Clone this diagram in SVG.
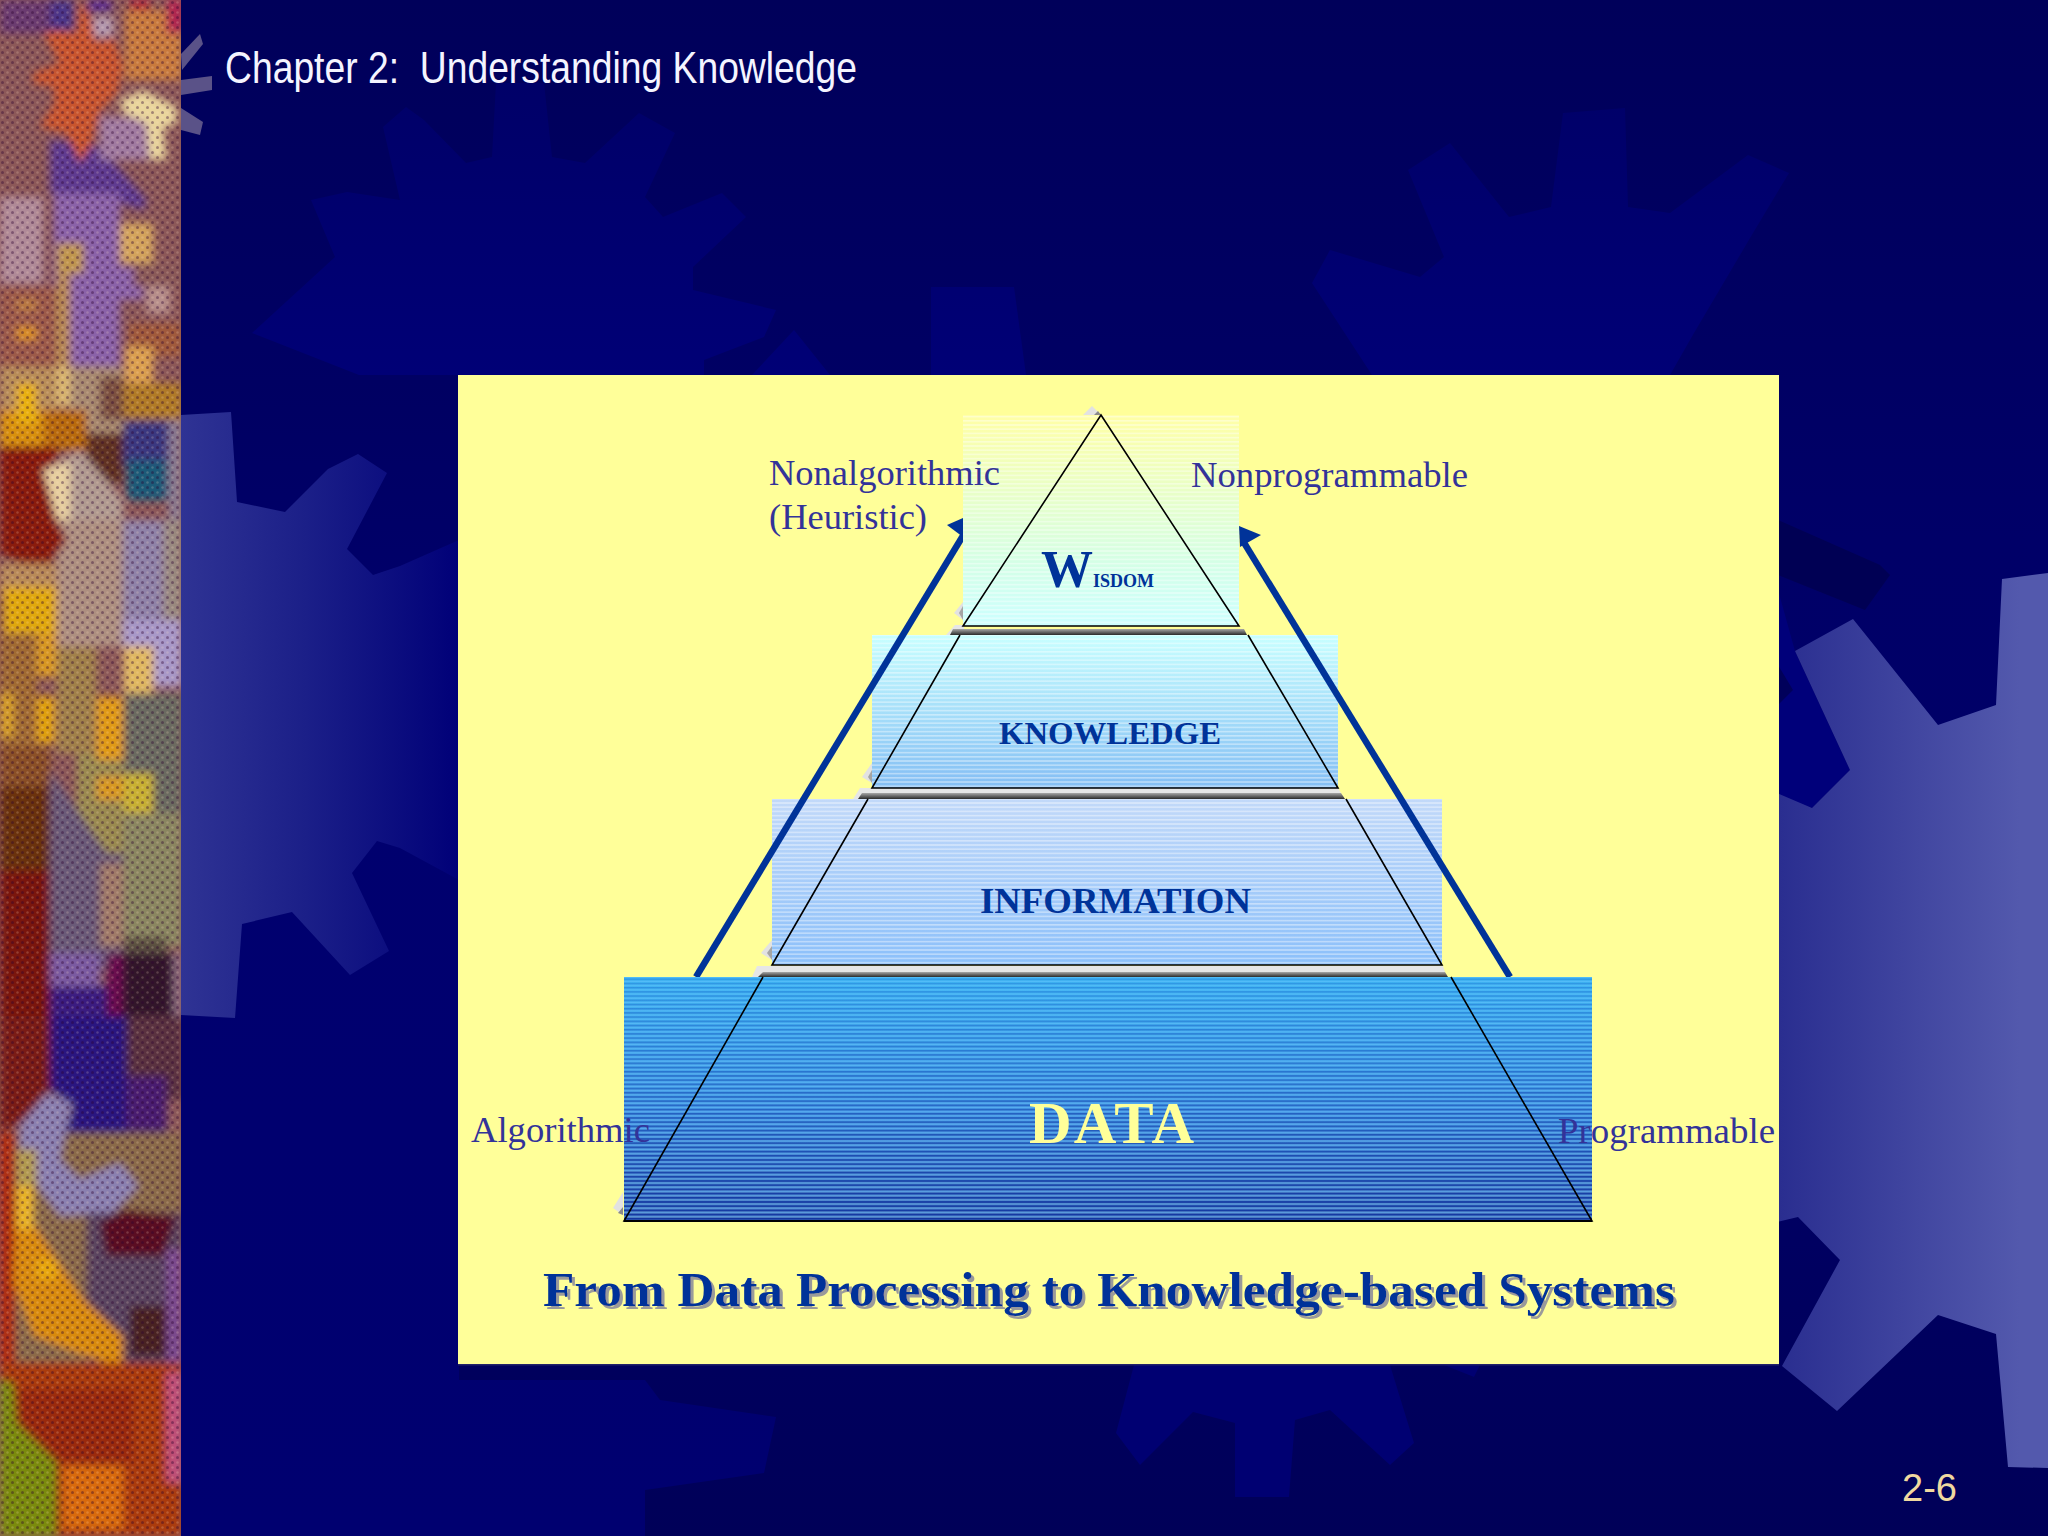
<svg xmlns="http://www.w3.org/2000/svg" width="2048" height="1536" viewBox="0 0 2048 1536">
<style>
.lab{font-family:"Liberation Serif","Times New Roman",serif;font-size:35px;fill:#333399}
.nm{font-family:"Liberation Serif","Times New Roman",serif;font-weight:bold;fill:#003399}
.edge{fill:none;stroke:#000;stroke-width:1.6}
.arrow{fill:none;stroke:#003399;stroke-width:6.5}
.head{fill:#003399}
.lt{fill:#e6e6e6}
.dk{fill:url(#barG)}
.tick{fill:#e2e2e2}
.tickd{fill:#8a8a8a}
</style>
<defs>
<linearGradient id="bg" x1="0" y1="0" x2="0" y2="1"><stop offset="0" stop-color="#00005a"/><stop offset=".35" stop-color="#000068"/><stop offset=".7" stop-color="#000066"/><stop offset="1" stop-color="#000058"/></linearGradient>
<linearGradient id="leftBg" x1="0" y1="0" x2="0" y2="1"><stop offset="0" stop-color="#000062"/><stop offset=".3" stop-color="#00006e"/><stop offset="1" stop-color="#000070"/></linearGradient>
<linearGradient id="topG" gradientUnits="userSpaceOnUse" x1="0" y1="80" x2="0" y2="375"><stop offset="0" stop-color="#000068"/><stop offset="1" stop-color="#000076"/></linearGradient>
<linearGradient id="gearR" gradientUnits="userSpaceOnUse" x1="1700" y1="0" x2="2020" y2="0"><stop offset="0" stop-color="#14187f"/><stop offset=".25" stop-color="#2a2e90"/><stop offset="1" stop-color="#5359ad"/></linearGradient>
<linearGradient id="gearL" gradientUnits="userSpaceOnUse" x1="181" y1="0" x2="460" y2="0"><stop offset="0" stop-color="#2f3394"/><stop offset=".45" stop-color="#1b1f88"/><stop offset="1" stop-color="#000078"/></linearGradient>
<linearGradient id="barG" x1="0" y1="0" x2="0" y2="1"><stop offset="0" stop-color="#a8a8a8"/><stop offset="1" stop-color="#2a2a2a"/></linearGradient>
<linearGradient id="wG" x1="0" y1="0" x2="0" y2="1"><stop offset="0" stop-color="#ffffa6"/><stop offset=".7" stop-color="#d4ffe6"/><stop offset="1" stop-color="#ccffff"/></linearGradient>
<linearGradient id="kG" x1="0" y1="0" x2="0" y2="1"><stop offset="0" stop-color="#c8ffff"/><stop offset="1" stop-color="#84bef4"/></linearGradient>
<linearGradient id="iG" x1="0" y1="0" x2="0" y2="1"><stop offset="0" stop-color="#c2d9f9"/><stop offset="1" stop-color="#8cc0fa"/></linearGradient>
<linearGradient id="dG" x1="0" y1="0" x2="0" y2="1"><stop offset="0" stop-color="#3eb4f2"/><stop offset=".55" stop-color="#4596e2"/><stop offset="1" stop-color="#4a74bc"/></linearGradient>
<linearGradient id="fade" x1="0" y1="0" x2="0" y2="1"><stop offset="0" stop-color="#111"/><stop offset=".45" stop-color="#555"/><stop offset="1" stop-color="#eee"/></linearGradient>
<pattern id="sw" width="4" height="4.2" patternUnits="userSpaceOnUse"><rect width="4" height="1.6" fill="#fff" fill-opacity=".4"/></pattern>
<pattern id="sb" width="4" height="4.2" patternUnits="userSpaceOnUse"><rect width="4" height="1.2" fill="#1060d8" fill-opacity=".28"/></pattern>
<pattern id="sd" width="4" height="4.2" patternUnits="userSpaceOnUse"><rect width="4" height="1.6" fill="#0a2a9a"/></pattern>
<pattern id="sl" width="4" height="4.2" patternUnits="userSpaceOnUse"><rect y="2.2" width="4" height="1.2" fill="#6cc8ff" fill-opacity=".45"/></pattern>
<mask id="dMask" maskUnits="userSpaceOnUse" x="624" y="977" width="968" height="244"><rect x="624" y="977" width="968" height="244" fill="url(#fade)"/></mask>
<pattern id="dith" width="10" height="10" patternUnits="userSpaceOnUse"><circle cx="2.5" cy="2.5" r="1.5" fill="#2a0030" fill-opacity=".38"/><circle cx="7.5" cy="7.5" r="1.5" fill="#2a0030" fill-opacity=".38"/><circle cx="7.5" cy="2.5" r="1.2" fill="#ffe0c8" fill-opacity=".2"/><circle cx="2.5" cy="7.5" r="1.2" fill="#ffe0c8" fill-opacity=".2"/></pattern>
<filter id="soft" x="-5%" y="-2%" width="110%" height="104%"><feGaussianBlur stdDeviation="4"/></filter>
<filter id="ts" x="-2%" y="-10%" width="104%" height="130%"><feDropShadow dx="3" dy="3" stdDeviation=".6" flood-color="#9a9a9a"/></filter>
<clipPath id="side"><rect width="181" height="1536"/></clipPath>
</defs>

<g id="background">
<rect width="2048" height="1536" fill="url(#bg)"/>
<path d="M181 380H459V1380H645L660 1400 776 1417 764 1473 645 1490V1536H181Z" fill="url(#leftBg)"/>
<g fill="url(#topG)">
<path d="M383 127 406 107 424 120 466 163 492 157 496 83H544L552 157 585 163 639 113 675 133 645 197 663 217 722 193 746 217 693 267V290L776 310 764 337 704 360V375H359L252 333 335 257 311 200 347 192 400 200Z"/>
<path d="M931 287H1014L1026 375H931Z"/>
<path d="M794 330 752 375H830Z"/>
<path d="M1563 113 1625 108 1628 207 1670 213 1748 155 1789 173 1753 233 1694 333 1670 375H1372L1312 283 1330 250 1420 277 1444 257 1408 170 1450 143 1509 217 1551 207Z"/>
</g>
<g fill="#000072">
<path d="M1134 1365 1116 1433 1140 1465 1193 1412 1235 1423V1497H1289L1295 1420 1330 1410 1390 1465 1414 1443 1390 1365Z"/>
<path d="M1444 1365H1480L1474 1377Z"/>
<path d="M1778 590 1795 651 1850 770 1812 808 1778 797Z" fill="#00007a"/>
</g>
<path d="M1778 520 1880 565 1890 575 1865 610 1778 575Z" fill="#000054"/>
<path d="M1778 665 1793 690 1778 705Z" fill="#00005a"/>
<path d="M2002 579 2048 573V1468L2008 1467 1996 1334 1938 1315 1837 1411 1782 1366 1840 1260 1798 1217 1700 1240V760L1812 808 1850 770 1795 651 1853 619 1938 725 1996 705Z" fill="url(#gearR)"/>
<path d="M181 415 231 412 237 502 285 512 328 469 358 454 387 473 347 549 373 575 400 566 459 540V880L400 848 377 841 352 873 389 951 350 975 292 912 242 924 235 1018 181 1015Z" fill="url(#gearL)"/>
</g>

<g id="sidebar" clip-path="url(#side)">
<rect width="181" height="1536" fill="#8c5858"/>
<g filter="url(#soft)">
<g transform="scale(.3333)">
<rect x="0" y="0" width="150" height="100" fill="#6b3a70"/>
<rect x="150" y="0" width="70" height="90" fill="#4b3488"/>
<rect x="265" y="0" width="70" height="35" fill="#5a2a90"/>
<rect x="375" y="30" width="171" height="210" fill="#c87a3c"/>
<rect x="390" y="0" width="60" height="30" fill="#b01a38"/>
<rect x="500" y="0" width="46" height="100" fill="#b02050"/>
<path d="M150 420 300 440 440 600 430 630 300 590 150 580Z" fill="#5f3a90"/>
<rect x="300" y="350" width="150" height="130" fill="#a07aa0"/>
<path d="M240 0 270 50 290 130 340 110 370 200 350 280 300 330 270 440 240 490 200 400 120 380 165 310 160 260 100 250 100 220 180 190 130 100 170 90 230 100Z" fill="#c8552f"/>
<rect x="280" y="50" width="60" height="60" fill="#b49ab0"/>
<path d="M360 300 430 270 530 320 530 370 490 385 500 480 450 480 440 370 370 340Z" fill="#ead69c"/>
<rect x="160" y="580" width="200" height="520" fill="#8a62a8"/>
<rect x="220" y="800" width="210" height="100" fill="#8a62a8"/>
<rect x="0" y="590" width="130" height="260" fill="#b08a98"/>
<rect x="0" y="860" width="170" height="240" fill="#9c5a48"/>
<rect x="170" y="730" width="80" height="90" fill="#c0964e"/>
<rect x="170" y="820" width="40" height="280" fill="#b88a50"/>
<rect x="50" y="900" width="60" height="30" fill="#c08040"/>
<rect x="50" y="980" width="60" height="40" fill="#dc9020"/>
<rect x="360" y="670" width="100" height="120" fill="#d4a45c"/>
<rect x="400" y="790" width="146" height="70" fill="#8a5a58"/>
<rect x="440" y="860" width="70" height="80" fill="#b8908c"/>
<rect x="385" y="970" width="161" height="100" fill="#a05a3a"/>
<rect x="375" y="1040" width="85" height="110" fill="#dca050"/>
<rect x="0" y="1100" width="170" height="130" fill="#b88d58"/>
<rect x="170" y="1100" width="40" height="120" fill="#dcb870"/>
<rect x="210" y="1100" width="160" height="200" fill="#a88a70"/>
<rect x="300" y="1130" width="70" height="130" fill="#7a5040"/>
<rect x="370" y="1150" width="176" height="110" fill="#b07a28"/>
<rect x="0" y="1230" width="140" height="110" fill="#d89010"/>
<rect x="50" y="1150" width="60" height="120" fill="#e8b010"/>
<rect x="130" y="1230" width="130" height="120" fill="#b86a10"/>
<rect x="260" y="1300" width="110" height="150" fill="#603020"/>
<rect x="370" y="1260" width="176" height="140" fill="#3a3880"/>
<rect x="380" y="1380" width="125" height="120" fill="#1a5a78"/>
<rect x="505" y="1260" width="41" height="300" fill="#8a7a90"/>
<rect x="0" y="1340" width="170" height="220" fill="#8a1a10"/>
<path d="M130 1410 240 1350 370 1500V1560H170Z" fill="#b09a90"/>
<path d="M130 1410 210 1385V1560H170Z" fill="#e8d0a0"/>
</g>
<g transform="translate(0 520) scale(.3333)">
<rect x="170" y="0" width="200" height="380" fill="#ad8f80"/>
<rect x="370" y="0" width="120" height="380" fill="#8f82a8"/>
<rect x="490" y="0" width="56" height="300" fill="#9a8a80"/>
<rect x="370" y="300" width="176" height="200" fill="#a898c8"/>
<path d="M0 0H170L200 60 130 160 0 100Z" fill="#8a1a10"/>
<rect x="0" y="130" width="170" height="100" fill="#b88a58"/>
<rect x="10" y="200" width="160" height="140" fill="#e0a810"/>
<rect x="110" y="340" width="60" height="130" fill="#d89820"/>
<rect x="0" y="340" width="110" height="340" fill="#a06a30"/>
<rect x="0" y="520" width="40" height="130" fill="#d8a028"/>
<rect x="110" y="530" width="55" height="140" fill="#e0a010"/>
<rect x="170" y="380" width="120" height="320" fill="#a0804a"/>
<rect x="370" y="520" width="176" height="360" fill="#6a6a60"/>
<rect x="230" y="700" width="140" height="300" fill="#9a8a50"/>
<rect x="290" y="530" width="80" height="190" fill="#e09a18"/>
<rect x="370" y="380" width="90" height="140" fill="#e0b860"/>
<rect x="290" y="770" width="80" height="70" fill="#d89820"/>
<rect x="370" y="760" width="90" height="120" fill="#c8b030"/>
<rect x="370" y="880" width="176" height="400" fill="#8a8660"/>
<rect x="0" y="680" width="150" height="120" fill="#8a5028"/>
<rect x="0" y="800" width="150" height="250" fill="#6a3010"/>
<rect x="0" y="1050" width="150" height="510" fill="#7a1410"/>
<path d="M150 750 320 1000 370 1000V1290L250 1400 150 1300Z" fill="#6a5a78"/>
<rect x="300" y="1030" width="70" height="250" fill="#a07a68"/>
<rect x="150" y="1300" width="150" height="100" fill="#7a5aa0"/>
<rect x="150" y="1400" width="220" height="160" fill="#3a1a80"/>
<rect x="320" y="1300" width="60" height="260" fill="#6a1050"/>
<rect x="370" y="1300" width="150" height="260" fill="#30142c"/>
<rect x="370" y="1250" width="130" height="50" fill="#5a5040"/>
<rect x="520" y="1300" width="26" height="260" fill="#8a6a80"/>
</g>
<g transform="translate(0 1016) scale(.3333)">
<path d="M0 0H150V230L60 320 0 350Z" fill="#7a1a18"/>
<rect x="380" y="0" width="166" height="250" fill="#5a3040"/>
<rect x="380" y="180" width="120" height="320" fill="#4a1a70"/>
<path d="M150 0H380V430L240 480 170 430 220 270 150 220Z" fill="#2a1480"/>
<rect x="0" y="350" width="546" height="700" fill="#8a6a4a"/>
<path d="M60 330 140 230 215 260 180 430 240 490 360 440 415 510 340 590 180 600 120 520 60 400Z" fill="#8a80b0"/>
<rect x="260" y="590" width="286" height="460" fill="#5a4460"/>
<path d="M300 620 370 580 530 600 490 720 320 720Z" fill="#5a0c24"/>
<rect x="390" y="870" width="110" height="150" fill="#4a2020"/>
<rect x="500" y="700" width="46" height="350" fill="#7a4a90"/>
<rect x="0" y="350" width="45" height="700" fill="#b02a10"/>
<path d="M50 500 100 620 150 700 250 850 370 960V1060L200 1000 100 960 40 800Z" fill="#d88a10"/>
<rect x="50" y="500" width="50" height="140" fill="#e8b428"/>
<rect x="50" y="400" width="60" height="110" fill="#b09a50"/>
<rect x="110" y="730" width="60" height="60" fill="#e8a810"/>
<rect x="0" y="1040" width="546" height="520" fill="#aa3a08"/>
<rect x="50" y="1120" width="350" height="220" fill="#9a2a08"/>
<path d="M0 1090 40 1100 50 1220 170 1340V1560H0Z" fill="#7a8a10"/>
<rect x="190" y="1350" width="180" height="190" fill="#d86a10"/>
<rect x="500" y="1070" width="46" height="330" fill="#c0507a"/>
</g>
</g>
<rect width="181" height="1536" fill="url(#dith)"/>
</g>
<g id="sidebar-teeth" fill="#5a5288">
<path d="M181 54 200 34 203 44 182 70Z"/>
<path d="M181 80 212 76V90L181 95Z"/>
<path d="M181 108 203 122 200 135 181 130Z"/>
</g>

<text id="title" x="225" y="83" font-family="Liberation Sans, Arial, sans-serif" font-size="45" fill="#f4f4ff" textLength="632" lengthAdjust="spacingAndGlyphs" style="white-space:pre">Chapter 2:  Understanding Knowledge</text>

<g id="panel">
<rect x="458" y="375" width="1321" height="990" fill="#ffff99"/>
<rect x="458" y="1364" width="1321" height="1.5" fill="#22226a"/>
</g>

<g id="knowledge">
<rect x="872" y="635" width="466" height="153" fill="url(#kG)"/>
<rect x="872" y="635" width="466" height="153" fill="url(#sw)"/>
</g>
<g id="information">
<rect x="772" y="799" width="670" height="166" fill="url(#iG)"/>
<rect x="772" y="799" width="670" height="166" fill="url(#sw)"/>
</g>

<g id="connectors">
<line class="arrow" x1="696" y1="977" x2="964" y2="534"/>
<line class="arrow" x1="1510" y1="977" x2="1243" y2="541"/>
<polygon class="head" points="947,525 963,518 963,537"/>
<polygon class="head" points="1239,526 1261,535 1240,547"/>
</g>

<g id="wisdom">
<rect x="963" y="415" width="276" height="211" fill="url(#wG)"/>
<rect x="963" y="415" width="276" height="211" fill="url(#sw)"/>
</g>

<g id="data">
<rect x="624" y="977" width="968" height="244" fill="url(#dG)"/>
<rect x="624" y="977" width="968" height="244" fill="url(#sl)"/>
<rect x="624" y="977" width="968" height="244" fill="url(#sb)"/>
<rect x="624" y="977" width="968" height="244" fill="url(#sd)" mask="url(#dMask)" opacity=".9"/>
</g>

<g id="pyramid-frame">
<path class="tick" d="M1083 415 1092 406 1101 415Z"/>
<path class="tickd" d="M1094 415 1098 411 1101 415Z"/>
<path class="tick" d="M954 613 963 602V620Z"/>
<path class="tickd" d="M959 613 963 606V620Z" opacity=".7"/>
<path class="tick" d="M862 777 872 763V783Z"/>
<path class="tickd" d="M868 777 872 770V783Z" opacity=".7"/>
<path class="tick" d="M761 953 772 940V960Z"/>
<path class="tickd" d="M767 953 772 946V960Z" opacity=".7"/>
<path class="tick" d="M613 1208 623 1192V1215Z"/>
<path class="tickd" d="M618 1213 623 1207V1215Z"/>
<path class="lt" d="M946 635 955 625H964V630L953 635Z"/>
<path class="dk" d="M953 629H1244L1247 635H950Z"/>
<path class="lt" d="M853 799 860 788H1338L1341 793 860 799Z"/>
<path class="dk" d="M862 793H1341L1345 799H858Z"/>
<path class="lt" d="M752 977 757 966H1443L1445 972 760 977Z"/>
<path class="dk" d="M763 972H1445L1448 977H758Z"/>
<path class="edge" d="M963 626 1101 415 1239 626Z"/>
<path class="edge" d="M960 635 872 788H1338L1248 635"/>
<path class="edge" d="M868 799 772 965H1442L1346 799"/>
<path class="edge" d="M763 977 624 1221H1592L1451 977"/>
<line x1="624" y1="1221" x2="1592" y2="1221" stroke="#000" stroke-width="2"/>
</g>

<g id="labels">
<text class="lab" x="769" y="485" textLength="231" lengthAdjust="spacingAndGlyphs">Nonalgorithmic</text>
<text class="lab" x="769" y="529" textLength="158" lengthAdjust="spacingAndGlyphs">(Heuristic)</text>
<text class="lab" x="1191" y="487" textLength="277" lengthAdjust="spacingAndGlyphs">Nonprogrammable</text>
<text class="lab" x="471" y="1142" textLength="179" lengthAdjust="spacingAndGlyphs">Algorithmic</text>
<text class="lab" x="1558" y="1143" textLength="217" lengthAdjust="spacingAndGlyphs">Programmable</text>
<text class="nm" x="1041" y="587"><tspan font-size="52">W</tspan><tspan font-size="18">ISDOM</tspan></text>
<text class="nm" x="999" y="744" font-size="32" textLength="222" lengthAdjust="spacingAndGlyphs">KNOWLEDGE</text>
<text class="nm" x="980" y="913" font-size="36" textLength="271" lengthAdjust="spacingAndGlyphs">INFORMATION</text>
<text class="nm" x="1029" y="1143" font-size="59" style="fill:#ffff99" textLength="165" lengthAdjust="spacing">DATA</text>
<text class="nm" x="543" y="1306" font-size="48" textLength="1132" lengthAdjust="spacingAndGlyphs" filter="url(#ts)">From Data Processing to Knowledge-based Systems</text>
<text id="page" x="1902" y="1501" font-family="Liberation Sans, Arial, sans-serif" font-size="38" fill="#f0d9a0">2-6</text>
</g>
</svg>
